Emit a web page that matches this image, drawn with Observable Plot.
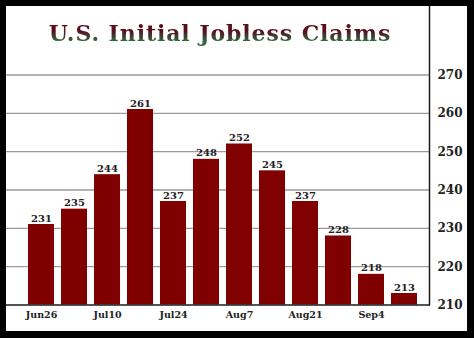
<!DOCTYPE html>
<html>
<head>
<meta charset="utf-8">
<script src="https://cdn.jsdelivr.net/npm/d3@7"></script>
<script src="https://cdn.jsdelivr.net/npm/@observablehq/plot@0.6"></script>
<style>
  html, body { margin: 0; padding: 0; background: #000; }
  #outer { position: relative; width: 474px; height: 338px; background: #000; overflow: hidden; }
  #panel { position: absolute; left: 6px; top: 6px; width: 461px; height: 325px; background: #fff; }
  #chart { position: absolute; left: 0; top: 0; }
  #title { position: absolute; left: 0; top: 16px; width: 428px; text-align: center; line-height: 1; z-index: 2; }
  #title span {
    display: inline-block; padding: 0 2px 6px 2px;
    font-family: "DejaVu Serif", serif; font-weight: bold; font-size: 22px; letter-spacing: 0.9px;
    background: linear-gradient(to bottom, #5a0d1c 0%, #5a0d1c 32%, #2f6a40 68%, #2f6a40 100%);
    -webkit-background-clip: text; background-clip: text; color: transparent;
  }
</style>
</head>
<body>
<div id="outer"><div id="panel"><div id="title"><span>U.S. Initial Jobless Claims</span></div><div id="chart"></div></div></div>
<script>
const weeks = ["Jun26","Jul3","Jul10","Jul17","Jul24","Jul31","Aug7","Aug14","Aug21","Aug28","Sep4","Sep11"];
const claims = [231,235,244,261,237,248,252,245,237,228,218,213];
const xTickLabels = ["Jun26","Jul10","Jul24","Aug7","Aug21","Sep4"];
const yTickValues = [210,220,230,240,250,260,270];
const baseline = 210;

const data = weeks.map((w, i) => ({week: w, value: claims[i]}));

const chart = Plot.plot({
  width: 461,
  height: 325,
  marginTop: 0,
  marginLeft: 0,
  marginRight: 38,
  marginBottom: 26.5,
  style: {fontFamily: "DejaVu Serif", background: "transparent", color: "#222", overflow: "visible"},
  x: {domain: weeks, paddingInner: 0.22, paddingOuter: 0, insetLeft: 20.7, insetRight: 11.3, label: null},
  y: {domain: [210, 287.87], label: null},
  marks: [
    Plot.gridY(yTickValues.slice(1), {stroke: "#a0979a", strokeOpacity: 1, strokeWidth: 1.3}),
    Plot.barY(data, {x: "week", y1: baseline, y2: "value", fill: "#800000"}),
    Plot.ruleY([baseline], {stroke: "#1a1a1a", strokeWidth: 1.5}),
    Plot.frame({anchor: "right", stroke: "#1a1a1a", strokeWidth: 1.5}),
    Plot.text(data, {x: "week", y: "value", text: d => String(d.value), dy: -3, lineAnchor: "bottom", fontSize: 10, fontWeight: "bold", fill: "#222"}),
    Plot.axisX({ticks: xTickLabels, tickSize: 0, tickPadding: 6, fontSize: 9.5, fontWeight: "bold", label: null}),
    Plot.axisY({anchor: "right", ticks: yTickValues, tickSize: 0, tickPadding: 8, fontSize: 12, fontWeight: "bold", label: null})
  ]
});
document.getElementById("chart").appendChild(chart);
</script>
</body>
</html>
